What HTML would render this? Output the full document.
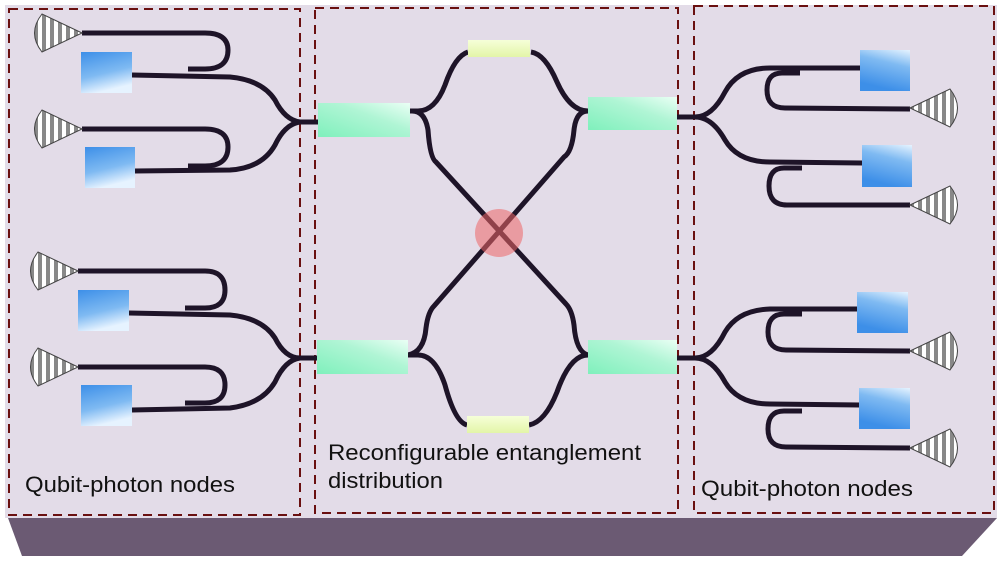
<!DOCTYPE html>
<html><head><meta charset="utf-8"><style>
html,body{margin:0;padding:0;background:#fff;}
svg{display:block}
text{font-family:"Liberation Sans",sans-serif;fill:#111;}
</style></head><body>
<svg width="1000" height="574" viewBox="0 0 1000 574" xmlns="http://www.w3.org/2000/svg">
<defs>
<linearGradient id="blue" x1="0" y1="0" x2="0.3" y2="1">
<stop offset="0" stop-color="#3d8fe8"/><stop offset="0.6" stop-color="#7fbaf2"/><stop offset="1" stop-color="#e6f3ff"/></linearGradient>
<linearGradient id="blueR" x1="1" y1="0" x2="0.7" y2="1">
<stop offset="0" stop-color="#e6f3ff"/><stop offset="0.4" stop-color="#7fbaf2"/><stop offset="1" stop-color="#3d8fe8"/></linearGradient>
<linearGradient id="green" x1="0" y1="1" x2="1" y2="0">
<stop offset="0" stop-color="#7ff0bc"/><stop offset="0.6" stop-color="#b0f5d5"/><stop offset="1" stop-color="#eafff5"/></linearGradient>
<linearGradient id="yellow" x1="0" y1="0" x2="0" y2="1">
<stop offset="0" stop-color="#f6ffd8"/><stop offset="1" stop-color="#e3f5a8"/></linearGradient>
<pattern id="stripes" width="8" height="10" patternUnits="userSpaceOnUse">
<rect width="8" height="10" fill="#fff"/><rect width="4" height="10" fill="#888"/></pattern>
<g id="gL"><path d="M0,0 L-40,-19 Q-55,0 -40,19 Z" fill="url(#stripes)" stroke="#444" stroke-width="1"/></g>
<g id="gR"><path d="M0,0 L40,-19 Q55,0 40,19 Z" fill="url(#stripes)" stroke="#444" stroke-width="1"/></g>
</defs>
<polygon points="8,518 997,518 962,556 22,556" fill="#6b5a73"/>
<rect x="5" y="5" width="992" height="513" fill="#e3dce8"/>
<g fill="none" stroke="#6a1010" stroke-width="2" stroke-dasharray="9,6">
<rect x="9" y="9" width="291" height="506"/>
<rect x="315" y="8" width="363" height="505"/>
<rect x="694" y="6" width="300" height="507"/>
</g>
<g fill="none" stroke="#1e1428" stroke-width="5" stroke-linecap="butt">
<path d="M82,33 L205,33 Q228,33 228,50 Q228,69 205,69 L188,69"/>
<path d="M132,75 L230,77 Q262,80 275,100 Q285,120 300,122 L320,122"/>
<path d="M82,129 L205,129 Q228,129 228,147 Q228,166 205,166 L188,166"/>
<path d="M135,171 L230,170 Q262,168 275,145 Q285,124 300,122"/>
<path d="M78,271 L205,271 Q225,271 225,290 Q225,308 205,308 L185,308"/>
<path d="M129,313 L230,315 Q262,318 275,338 Q285,358 300,358 L318,358"/>
<path d="M78,367 L205,367 Q225,367 225,385 Q225,403 205,403 L185,403"/>
<path d="M132,410 L230,408 Q262,404 275,382 Q285,360 300,358"/>
<path d="M410,111 L418,111 Q435,111 445,85 Q455,56 468,52"/>
<path d="M531,52 Q545,54 557,82 Q570,111 588,111"/>
<path d="M408,355 L418,355 Q435,355 445,385 Q455,422 467,425"/>
<path d="M529,425 Q545,422 557,392 Q570,355 588,355"/>
<path d="M412,111 Q425,111 428,130 Q430,158 436,162 L566,304 Q572,310 574,325 Q576,352 588,355"/>
<path d="M588,111 Q576,111 574,130 Q572,152 564,157 L434,306 Q428,312 426,328 Q424,352 408,355"/>
<path d="M677,117 L695,117 Q712,117 725,92 Q738,68 770,68 L860,68"/>
<path d="M800,73 L782,73 Q767,73 767,90 Q767,108 785,108 L910,109"/>
<path d="M695,117 Q712,117 725,140 Q738,162 770,162 L862,163"/>
<path d="M802,168 L784,168 Q769,168 769,186 Q769,205 787,205 L910,205"/>
<path d="M677,358 L695,358 Q712,358 725,332 Q738,310 770,309 L857,309"/>
<path d="M802,314 L784,314 Q768,314 768,332 Q768,350 786,350 L910,351"/>
<path d="M695,358 Q712,358 725,382 Q738,404 770,404 L860,405"/>
<path d="M802,411 L784,411 Q768,411 768,429 Q768,447 786,447 L910,448"/>
</g>
<circle cx="499" cy="233" r="24" fill="#e66" opacity="0.55"/>
<use href="#gL" x="82" y="33"/><use href="#gL" x="82" y="129"/>
<use href="#gL" x="78" y="271"/><use href="#gL" x="78" y="367"/>
<use href="#gR" x="910" y="108"/><use href="#gR" x="910" y="205"/>
<use href="#gR" x="910" y="351"/><use href="#gR" x="910" y="448"/>
<rect x="81" y="52" width="51" height="41" fill="url(#blue)"/>
<rect x="85" y="147" width="50" height="41" fill="url(#blue)"/>
<rect x="78" y="290" width="51" height="41" fill="url(#blue)"/>
<rect x="81" y="385" width="51" height="41" fill="url(#blue)"/>
<rect x="860" y="50" width="50" height="41" fill="url(#blueR)"/>
<rect x="862" y="145" width="50" height="42" fill="url(#blueR)"/>
<rect x="857" y="292" width="51" height="41" fill="url(#blueR)"/>
<rect x="859" y="388" width="51" height="41" fill="url(#blueR)"/>
<rect x="318" y="103" width="92" height="34" fill="url(#green)"/>
<rect x="317" y="340" width="91" height="34" fill="url(#green)"/>
<rect x="588" y="97" width="89" height="33" fill="url(#green)"/>
<rect x="588" y="340" width="89" height="34" fill="url(#green)"/>
<rect x="468" y="40" width="62" height="17" fill="url(#yellow)"/>
<rect x="467" y="416" width="62" height="17" fill="url(#yellow)"/>
<text x="25" y="492" font-size="22" textLength="210" lengthAdjust="spacingAndGlyphs">Qubit-photon nodes</text>
<text x="328" y="460" font-size="22" textLength="313" lengthAdjust="spacingAndGlyphs">Reconfigurable entanglement</text>
<text x="328" y="488" font-size="22" textLength="115" lengthAdjust="spacingAndGlyphs">distribution</text>
<text x="701" y="496" font-size="22" textLength="212" lengthAdjust="spacingAndGlyphs">Qubit-photon nodes</text>
</svg>
</body></html>
